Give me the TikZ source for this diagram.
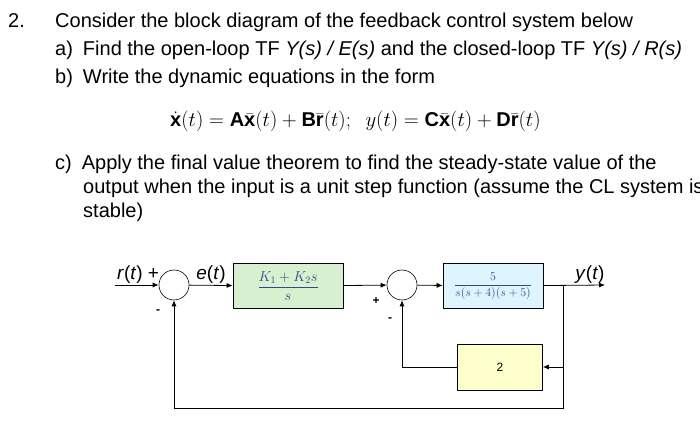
\documentclass[tikz,border=0pt]{standalone}
\usepackage{amsmath}
\usepackage{fontspec}
\setmainfont{Liberation Sans}
\usetikzlibrary{arrows.meta}
\definecolor{gfill}{RGB}{214,240,208}
\definecolor{bfill}{RGB}{222,245,255}
\definecolor{yfill}{RGB}{255,255,204}
\definecolor{tblue}{RGB}{45,75,140}
\begin{document}
\begin{tikzpicture}[x=1pt,y=-1pt,
  blk/.style={draw,line width=0.6pt,minimum height=45pt,inner sep=0pt},
  sumc/.style={draw,circle,minimum size=30pt,inner sep=0pt,line width=0.6pt},
  sig/.style={-{Latex[length=6pt,width=5pt]},line width=0.8pt},
  txt/.style={anchor=base west,font=\fontsize{20}{24}\selectfont,inner sep=0pt},
  lbl/.style={font=\fontsize{19}{22}\selectfont,anchor=base,inner sep=0pt}]
\useasboundingbox (0,0) rectangle (700,443);
\node[txt] (n2) at (8,28) {2.};
\node[txt] (l1) at (55,28) {Consider the block diagram of the feedback control system below};
\node[txt] (l2) at (55,56) {a)\enspace Find the open-loop TF \textit{Y(s) / E(s)} and the closed-loop TF \textit{Y(s) / R(s)}};
\node[txt] (l3) at (55,84) {b)\enspace Write the dynamic equations in the form};
\node[txt] (eq) at (170,127) {$\dot{\textbf{x}}(t)=\textbf{A}\bar{\textbf{x}}(t)+\textbf{B}\bar{\textbf{r}}(t);\ \ y(t)=\textbf{C}\bar{\textbf{x}}(t)+\textbf{D}\bar{\textbf{r}}(t)$};
\node[txt] (l4) at (55,170) {c)\enspace Apply the final value theorem to find the steady-state value of the};
\node[txt] (l5) at (83,194) {output when the input is a unit step function (assume the CL system is};
\node[txt] (l6) at (83,218) {stable)};

\node[sumc] (s1) at (174,285) {};
\node[sumc] (s2) at (402,285) {};
\node[blk,fill=gfill,minimum width=110pt,text=tblue,font=\Large] (g1) at (288,286) {$\dfrac{K_1+K_2s}{s}$};
\node[blk,fill=bfill,minimum width=100pt,text=tblue,font=\large] (g2) at (493,286) {$\dfrac{5}{s(s+4)(s+5)}$};
\node[blk,fill=yfill,minimum width=85pt,minimum height=46pt,font=\large] (h) at (500,367) {2};
\coordinate (in) at (115,285);
\coordinate (out) at (605,285);
\coordinate (br) at (563,285);
\coordinate (bot) at (563,408);

\draw[sig] (in) -- (s1);
\draw[sig] (s1) -- (g1);
\draw[sig] (g1) -- (s2);
\draw[sig] (s2) -- (g2);
\draw[sig] (g2) -- (out);
\draw[sig] (br) |- (h);
\draw[sig] (h) -| (s2);
\draw[sig] (br) -- (bot) -| (s1);

\node[lbl] (rt) at (138,279) {\textit{r}(\textit{t}) +};
\node[lbl] (et) at (211,279) {\textit{e}(\textit{t})};
\node[lbl] (yt) at (590,279) {\textit{y}(\textit{t})};
\node[font=\bfseries\large] (m1) at (158,312) {-};
\node[font=\bfseries\large] (p2) at (376,301) {+};
\node[font=\bfseries\large] (m2) at (390,320) {-};
\end{tikzpicture}
\end{document}
